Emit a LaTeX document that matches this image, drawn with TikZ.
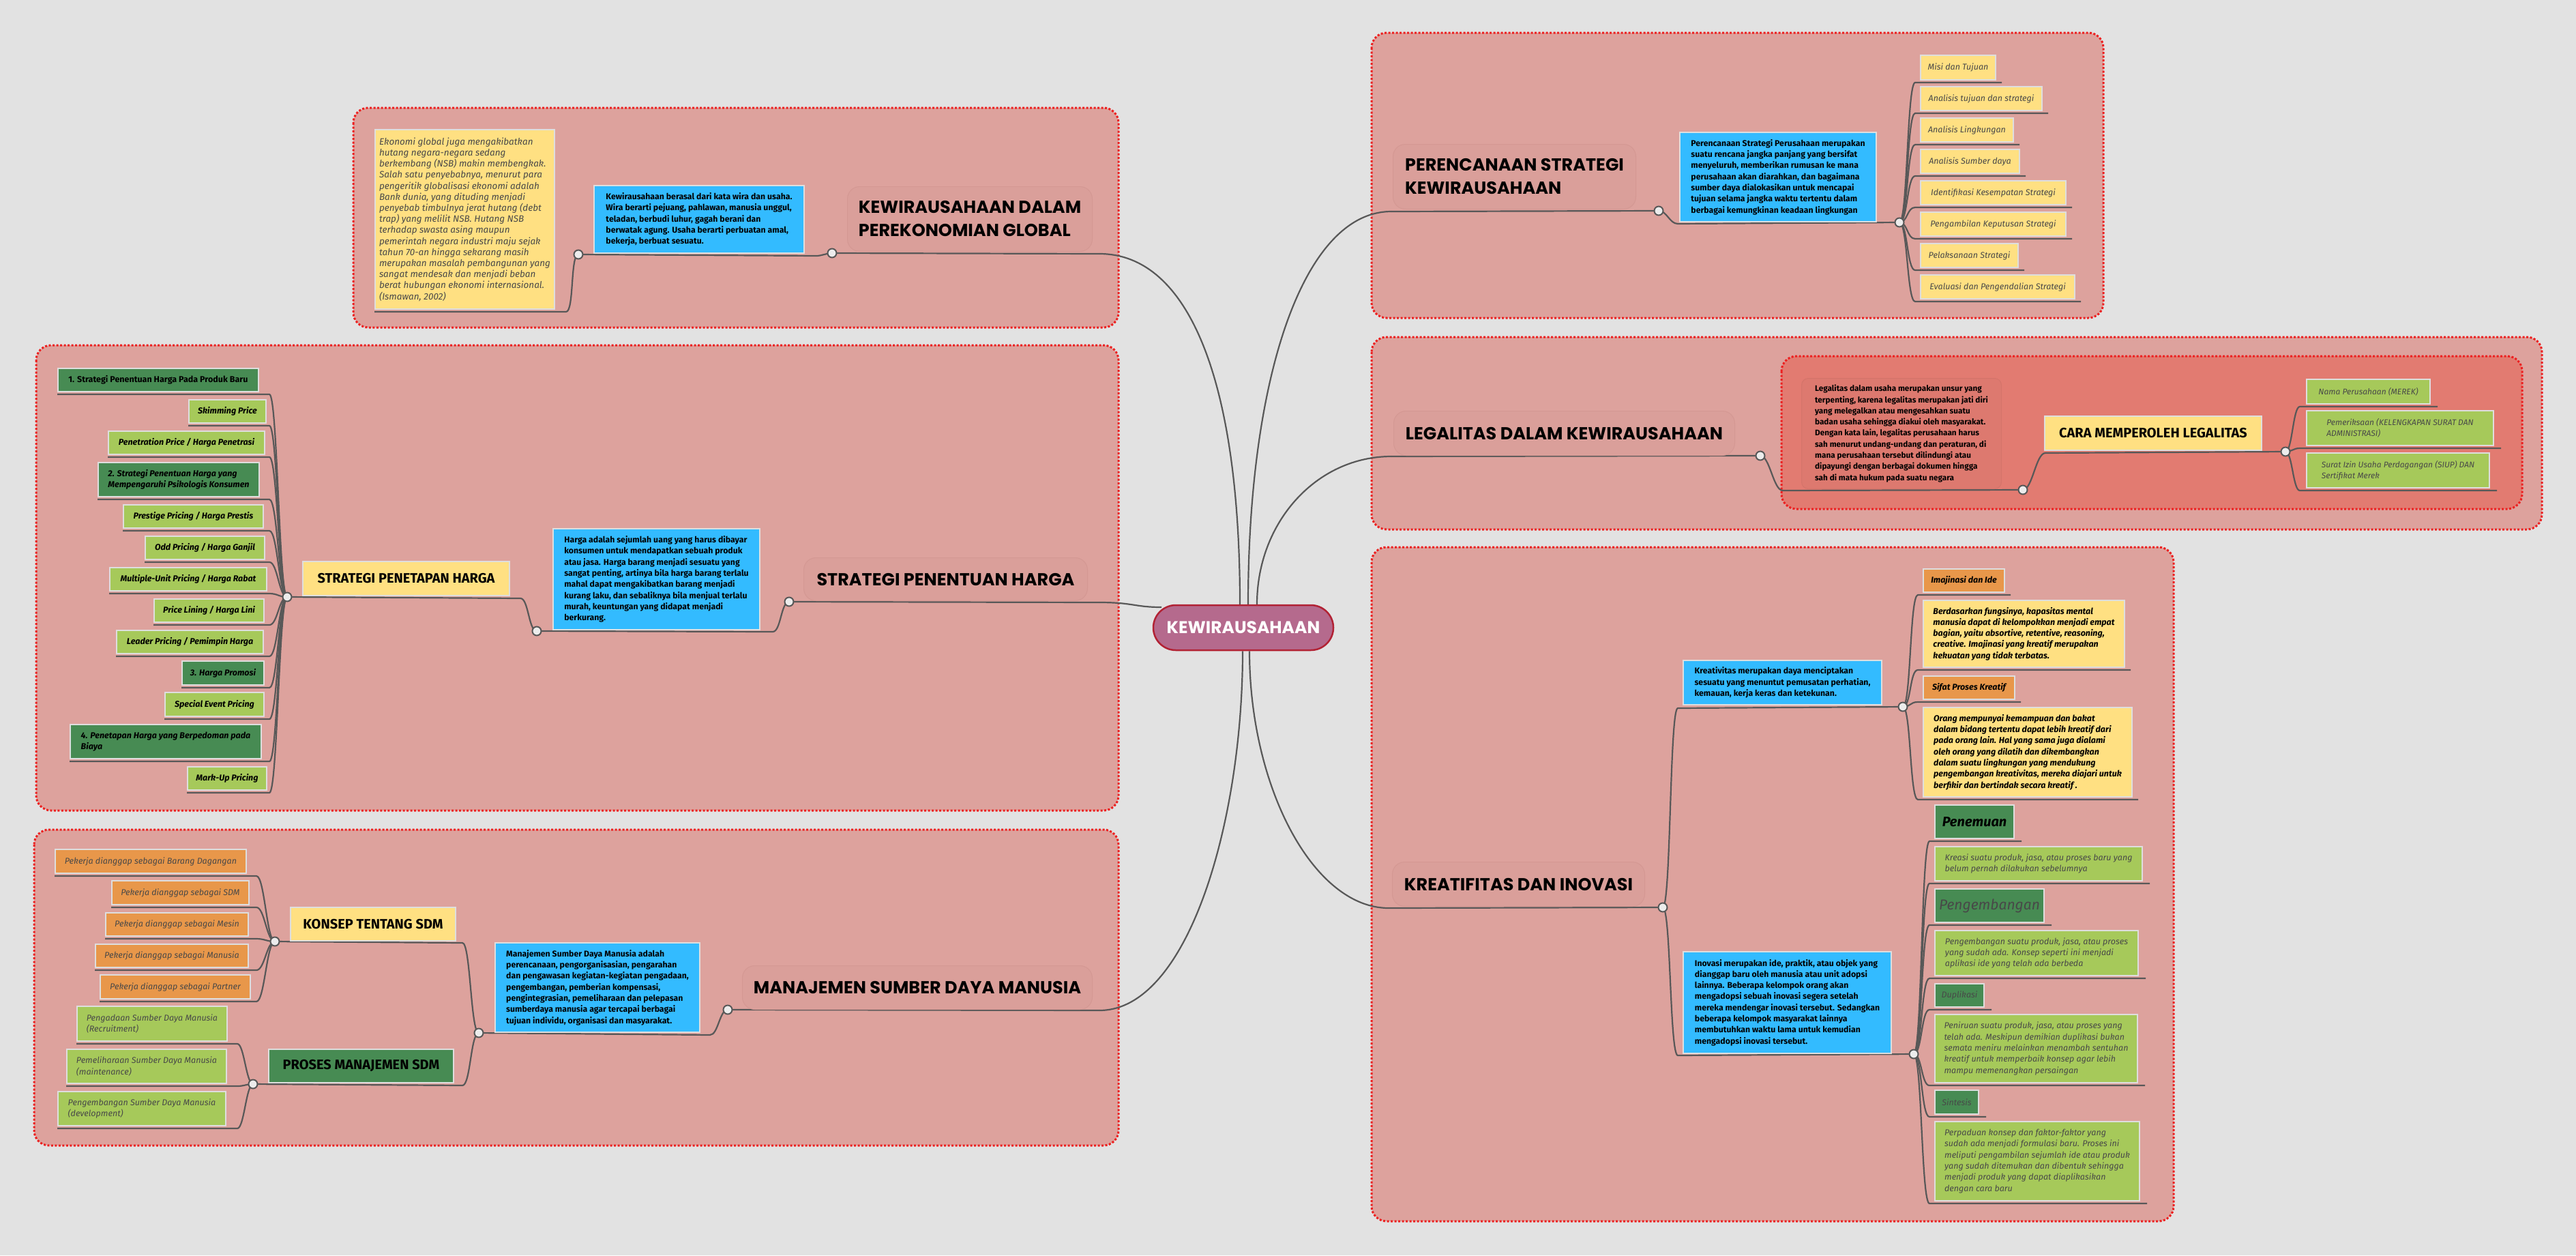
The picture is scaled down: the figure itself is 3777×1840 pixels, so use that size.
\documentclass[tikz,border=0pt]{standalone}
\usepackage{fontspec}
\setmainfont{Fira Sans}
\newfontfamily\hubfont{Poppins}
\usetikzlibrary{calc}
\definecolor{bggray}{RGB}{226,226,226}
\definecolor{regionpink}{RGB}{221,162,157}
\definecolor{regionred}{RGB}{236,32,32}
\definecolor{innersalmon}{RGB}{226,123,113}
\definecolor{titlepink}{RGB}{218,159,154}
\definecolor{titleedge}{RGB}{212,152,147}
\definecolor{noteblue}{RGB}{51,187,255}
\definecolor{noteyellow}{RGB}{255,224,130}
\definecolor{leafgreen}{RGB}{166,201,90}
\definecolor{darkgreen}{RGB}{71,139,83}
\definecolor{noteorange}{RGB}{232,151,74}
\definecolor{edgegray}{RGB}{222,222,222}
\definecolor{linegray}{RGB}{88,88,88}
\definecolor{textgray}{RGB}{72,72,72}
\definecolor{hubpurple}{RGB}{181,106,141}
\definecolor{hubred}{RGB}{178,34,52}

\pgfdeclarelayer{bg}
\pgfdeclarelayer{lines}
\pgfsetlayers{bg,lines,main}

\newcommand\leaffont{\fontsize{12.5}{16.3}\selectfont}
\newcommand\notefont{\fontsize{12.3}{16.3}\selectfont\bfseries}
\newcommand\topicfont{\hubfont\bfseries\fontsize{25.5}{34}\selectfont}
\newcommand\subtopicfont{\fontsize{20}{24}\selectfont\bfseries}

\tikzset{
  region/.style={fill=regionpink, draw=regionred, line width=3pt, dash pattern=on 3pt off 2.5pt, rounded corners=22pt},
  conn/.style={draw=linegray, line width=2.2pt},
  knob/.style={circle, draw=linegray, fill=gray!15, line width=2pt, minimum size=13pt, inner sep=0pt},
  card/.style={draw=edgegray, line width=2pt, inner sep=6pt, align=left, anchor=north west},
  sz/.style 2 args={minimum width=#1, minimum height=#2},
  topic/.style={fill=titlepink, draw=titleedge, line width=1pt, rounded corners=18pt, align=left, anchor=north west, inner sep=8pt, font=\topicfont},
  legalbox/.style={fill=innersalmon!98!black, draw=innersalmon!94!black, line width=1pt, rounded corners=10pt, align=left, anchor=north west, inner sep=6pt, font=\fontsize{11.8}{16.3}\selectfont\bfseries},
  root/.style={fill=hubpurple, draw=hubred, line width=2.5pt, rounded corners=33pt, minimum width=264, minimum height=66, text=white, font=\hubfont\bfseries\fontsize{25}{30}\selectfont},
  note/.style={card, fill=noteblue, font=\notefont},
  ylw/.style={card, fill=noteyellow},
  lgr/.style={card, fill=leafgreen},
  dgr/.style={card, fill=darkgreen},
  org/.style={card, fill=noteorange},
  grey text/.style={text=textgray, font=\leaffont\itshape},
  dark text/.style={text=black, font=\leaffont\bfseries\itshape},
}

\begin{document}
\begin{tikzpicture}[x=1pt, y=-1pt]
  \useasboundingbox (0,0) rectangle (3777,1840);
  \begin{pgfonlayer}{bg}
    \fill[bggray] (0,0) rectangle (3777,1840);
    % boundaries round each topic
    \draw[region] (518,158) rectangle (1640,480);
    \draw[region] (53,506) rectangle (1640,1188);
    \draw[region] (50,1216) rectangle (1640,1679);
    \draw[region] (2011,48) rectangle (3084,466);
    \draw[region] (2011,494) rectangle (3727,776);
    \draw[region, fill=innersalmon] (2612,522) rectangle (3698,746);
    \draw[region] (2011,802) rectangle (3187,1790);
  \end{pgfonlayer}

  % root
  \node[root] (cen) at (1823,920) {KEWIRAUSAHAAN};

  % ---- Kewirausahaan dalam perekonomian global
  \node[ylw, grey text, sz={259}{263}, font=\fontsize{13.5}{16.2}\selectfont\itshape] (ayel) at (549,189)
    {Ekonomi global juga mengakibatkan\\hutang negara-negara sedang\\berkembang (NSB) makin membengkak.\\Salah satu penyebabnya, menurut para\\pengeritik globalisasi ekonomi adalah\\Bank dunia, yang dituding menjadi\\penyebab timbulnya jerat hutang (debt\\trap) yang melilit NSB. Hutang NSB\\terhadap swasta asing maupun\\pemerintah negara industri maju sejak\\tahun 70-an hingga sekarang masih\\merupakan masalah pembangunan yang\\sangat mendesak dan menjadi beban\\berat hubungan ekonomi internasional.\\(Ismawan, 2002)};
  \node[note, sz={308}{99}] (ablue) at (870,271)
    {Kewirausahaan berasal dari kata wira dan usaha.\\Wira berarti pejuang, pahlawan, manusia unggul,\\teladan, berbudi luhur, gagah berani dan\\berwatak agung. Usaha berarti perbuatan amal,\\bekerja, berbuat sesuatu.};
  \node[topic, sz={359}{95}] (atitle) at (1242,273) {KEWIRAUSAHAAN DALAM\\PEREKONOMIAN GLOBAL};
  \node[knob] (cA1) at (1220,371) {};
  \node[knob] (cA2) at (848,373) {};

  % ---- Strategi penentuan harga
  \node[dgr, sz={294}{34}, text=black, font=\leaffont\bfseries] (b1) at (84,539) {1. Strategi Penentuan Harga Pada Produk Baru};
  \node[lgr, dark text, sz={113}{34}] (b2) at (276,585) {Skimming Price};
  \node[lgr, dark text, sz={229}{34}] (b3) at (158,631) {Penetration Price / Harga Penetrasi};
  \node[dgr, dark text, sz={236}{50}] (b4) at (143,677) {2. Strategi Penentuan Harga yang\\Mempengaruhi Psikologis Konsumen};
  \node[lgr, dark text, sz={205}{34}] (b5) at (180,739) {Prestige Pricing / Harga Prestis};
  \node[lgr, dark text, sz={175}{34}] (b6) at (212,785) {Odd Pricing / Harga Ganjil};
  \node[lgr, dark text, sz={230}{34}] (b7) at (160,831) {Multiple-Unit Pricing / Harga Rabat};
  \node[lgr, dark text, sz={161}{34}] (b8) at (225,877) {Price Lining / Harga Lini};
  \node[lgr, dark text, sz={215}{34}] (b9) at (170,923) {Leader Pricing / Pemimpin Harga};
  \node[dgr, dark text, sz={120}{35}] (b10) at (266,968) {3. Harga Promosi};
  \node[lgr, dark text, sz={145}{35}] (b11) at (241,1014) {Special Event Pricing};
  \node[dgr, dark text, sz={280}{50}] (b12) at (102,1061) {4. Penetapan Harga yang Berpedoman pada\\Biaya};
  \node[lgr, dark text, sz={116}{34}] (b13) at (274,1123) {Mark-Up Pricing};
  \coordinate (bx) at (395,0);
  \node[knob] (cB3) at (421,875) {};
  \node[ylw, sz={303}{50}, font=\subtopicfont] (bpen) at (443,822) {STRATEGI PENETAPAN HARGA};
  \node[knob] (cB2) at (787,925) {};
  \node[note, sz={303}{148}] (bblue) at (810,774)
    {Harga adalah sejumlah uang yang harus dibayar\\konsumen untuk mendapatkan sebuah produk\\atau jasa. Harga barang menjadi sesuatu yang\\sangat penting, artinya bila harga barang terlalu\\mahal dapat mengakibatkan barang menjadi\\kurang laku, dan sebaliknya bila menjual terlalu\\murah, keuntungan yang didapat menjadi\\berkurang.};
  \node[knob] (cB1) at (1157,882) {};
  \node[topic, sz={416}{63}] (btitle) at (1178,817) {STRATEGI PENENTUAN HARGA};

  % ---- Manajemen sumber daya manusia
  \node[org, grey text, sz={280}{35}] (c1) at (80,1244) {Pekerja dianggap sebagai Barang Dagangan};
  \node[org, grey text, sz={201}{35}] (c2) at (163,1290) {Pekerja dianggap sebagai SDM};
  \node[org, grey text, sz={209}{34}] (c3) at (154,1337) {Pekerja dianggap sebagai Mesin};
  \node[org, grey text, sz={224}{34}] (c4) at (139,1383) {Pekerja dianggap sebagai Manusia};
  \node[org, grey text, sz={220}{35}] (c5) at (146,1428) {Pekerja dianggap sebagai Partner};
  \node[lgr, grey text, sz={220}{51}] (c6) at (112,1474) {Pengadaan Sumber Daya Manusia\\(Recruitment)};
  \node[lgr, grey text, sz={234}{50}] (c7) at (97,1537) {Pemeliharaan Sumber Daya Manusia\\(maintenance)};
  \node[lgr, grey text, sz={246}{50}] (c8) at (84,1599) {Pengembangan Sumber Daya Manusia\\(development)};
  \coordinate (cxa) at (376,0);
  \coordinate (cxb) at (348,0);
  \node[knob] (cC3) at (403,1380) {};
  \node[ylw, sz={242}{49}, font=\subtopicfont] (ckonsep) at (425,1329) {KONSEP TENTANG SDM};
  \node[knob] (cC4) at (371,1589) {};
  \node[dgr, sz={271}{49}, font=\subtopicfont] (cproses) at (393,1537) {PROSES MANAJEMEN SDM};
  \node[knob] (cC2) at (702,1514) {};
  \node[note, sz={300}{131}] (cblue) at (725,1381)
    {Manajemen Sumber Daya Manusia adalah\\perencanaan, pengorganisasian, pengarahan\\dan pengawasan kegiatan-kegiatan pengadaan,\\pengembangan, pemberian kompensasi,\\pengintegrasian, pemeliharaan dan pelepasan\\sumberdaya manusia agar tercapai berbagai\\tujuan individu, organisasi dan masyarakat.};
  \node[knob] (cC1) at (1067,1480) {};
  \node[topic, sz={513}{64}] (ctitle) at (1088,1415) {MANAJEMEN SUMBER DAYA MANUSIA};

  % ---- Perencanaan strategi kewirausahaan
  \node[topic, sz={356}{95}] (dtitle) at (2042,211) {PERENCANAAN STRATEGI\\KEWIRAUSAHAAN};
  \node[knob] (cD1) at (2432,309) {};
  \node[note, sz={288}{131}] (dblue) at (2462,193)
    {Perencanaan Strategi Perusahaan merupakan\\suatu rencana jangka panjang yang bersifat\\menyeluruh, memberikan rumusan ke mana\\perusahaan akan diarahkan, dan bagaimana\\sumber daya dialokasikan untuk mencapai\\tujuan selama jangka waktu tertentu dalam\\berbagai kemungkinan keadaan lingkungan};
  \node[knob] (cD2) at (2785,326) {};
  \node[ylw, grey text, sz={110}{36}] (d1) at (2815,80) {Misi dan Tujuan};
  \node[ylw, grey text, sz={178}{35}] (d2) at (2815,126) {Analisis tujuan dan strategi};
  \node[ylw, grey text, sz={136}{35}] (d3) at (2815,172) {Analisis Lingkungan};
  \node[ylw, grey text, sz={145}{35}] (d4) at (2815,218) {Analisis Sumber daya};
  \node[ylw, grey text, sz={213}{35}] (d5) at (2815,264) {Identifikasi Kesempatan Strategi};
  \node[ylw, grey text, sz={213}{35}] (d6) at (2815,310) {Pengambilan Keputusan Strategi};
  \node[ylw, grey text, sz={143}{35}] (d7) at (2815,356) {Pelaksanaan Strategi};
  \node[ylw, grey text, sz={226}{35}] (d8) at (2815,402) {Evaluasi dan Pengendalian Strategi};

  % ---- Legalitas dalam kewirausahaan
  \node[topic, sz={500}{65}] (etitle) at (2043,602) {LEGALITAS DALAM KEWIRAUSAHAAN};
  \node[knob] (cE1) at (2581,668) {};
  \node[legalbox, sz={293}{162}] (etext) at (2641,554)
    {Legalitas dalam usaha merupakan unsur yang\\terpenting, karena legalitas merupakan jati diri\\yang melegalkan atau mengesahkan suatu\\badan usaha sehingga diakui oleh masyarakat.\\Dengan kata lain, legalitas perusahaan harus\\sah menurut undang-undang dan peraturan, di\\mana perusahaan tersebut dilindungi atau\\dipayungi dengan berbagai dokumen hingga\\sah di mata hukum pada suatu negara};
  \node[knob] (cE2) at (2966,718) {};
  \node[ylw, sz={318}{50}, font=\subtopicfont] (ecara) at (2997,609) {CARA MEMPEROLEH LEGALITAS};
  \node[knob] (cE3) at (3351,662) {};
  \node[lgr, grey text, sz={181}{36}, font=\fontsize{12}{16.3}\selectfont\itshape] (e1) at (3381,555) {Nama Perusahaan (MEREK)};
  \node[lgr, grey text, sz={274}{51}, font=\fontsize{12}{16.3}\selectfont\itshape] (e2) at (3381,601) {Pemeriksaan (KELENGKAPAN SURAT DAN\\ADMINISTRASI)};
  \node[lgr, grey text, sz={268}{51}, font=\fontsize{12}{16.3}\selectfont\itshape] (e3) at (3381,663) {Surat Izin Usaha Perdagangan (SIUP) DAN\\Sertifikat Merek};

  % ---- Kreatifitas dan inovasi
  \node[topic, sz={370}{65}] (ftitle) at (2041,1263) {KREATIFITAS DAN INOVASI};
  \node[knob] (cF1) at (2438,1330) {};
  \node[note, sz={291}{65}] (kblue) at (2467,967)
    {Kreativitas merupakan daya menciptakan\\sesuatu yang menuntut pemusatan perhatian,\\kemauan, kerja keras dan ketekunan.};
  \node[knob] (cFK) at (2790,1036) {};
  \node[org, dark text, sz={119}{34}] (k1) at (2819,833) {Imajinasi dan Ide};
  \node[ylw, dark text, sz={295}{98}] (k2) at (2819,879)
    {Berdasarkan fungsinya, kapasitas mental\\manusia dapat di kelompokkan menjadi empat\\bagian, yaitu absortive, retentive, reasoning,\\creative. Imajinasi yang kreatif merupakan\\kekuatan yang tidak terbatas.};
  \node[org, dark text, sz={134}{34}] (k3) at (2819,990) {Sifat Proses Kreatif};
  \node[ylw, dark text, sz={306}{131}] (k4) at (2819,1036)
    {Orang mempunyai kemampuan dan bakat\\dalam bidang tertentu dapat lebih kreatif dari\\pada orang lain. Hal yang sama juga dialami\\oleh orang yang dilatih dan dikembangkan\\dalam suatu lingkungan yang mendukung\\pengembangan kreativitas, mereka diajari untuk\\berfikir dan bertindak secara kreatif .};
  \node[note, sz={305}{149}] (iblue) at (2467,1394)
    {Inovasi merupakan ide, praktik, atau objek yang\\dianggap baru oleh manusia atau unit adopsi\\lainnya. Beberapa kelompok orang akan\\mengadopsi sebuah inovasi segera setelah\\mereka mendengar inovasi tersebut. Sedangkan\\beberapa kelompok masyarakat lainnya\\membutuhkan waktu lama untuk kemudian\\mengadopsi inovasi tersebut.};
  \node[knob] (cFI) at (2806,1545) {};
  \node[dgr, sz={116}{49}, text=black, font=\fontsize{20}{24}\selectfont\bfseries\itshape] (i1) at (2836,1179) {Penemuan};
  \node[lgr, grey text, sz={304}{50}] (i2) at (2836,1240) {Kreasi suatu produk, jasa, atau proses baru yang\\belum pernah dilakukan sebelumnya};
  \node[dgr, sz={160}{49}, text=textgray, font=\fontsize{21}{24}\selectfont\itshape] (i3) at (2836,1302) {Pengembangan};
  \node[lgr, grey text, sz={298}{66}] (i4) at (2836,1363) {Pengembangan suatu produk, jasa, atau proses\\yang sudah ada. Konsep seperti ini menjadi\\aplikasi ide yang telah ada berbeda};
  \node[dgr, grey text, sz={72}{34}] (i5) at (2836,1441) {Duplikasi};
  \node[lgr, grey text, sz={297}{100}] (i6) at (2836,1486) {Peniruan suatu produk, jasa, atau proses yang\\telah ada. Meskipun demikian duplikasi bukan\\semata meniru melainkan menambah sentuhan\\kreatif untuk memperbaik konsep agar lebih\\mampu memenangkan persaingan};
  \node[dgr, grey text, sz={64}{35}] (i7) at (2836,1597) {Sintesis};
  \node[lgr, grey text, sz={300}{116}] (i8) at (2836,1643) {Perpaduan konsep dan faktor-faktor yang\\sudah ada menjadi formulasi baru. Proses ini\\meliputi pengambilan sejumlah ide atau produk\\yang sudah ditemukan dan dibentuk sehingga\\menjadi produk yang dapat diaplikasikan\\dengan cara baru};

  \begin{pgfonlayer}{lines}
    % root to topics
    \draw[conn] ($(atitle.south east)+(10,3)$) .. controls +(130,0) and +(0,-330) .. ([xshift=-5pt]cen.north);
    \draw[conn] ($(btitle.south east)+(17,2)$) .. controls +(50,0) and +(-40,0) .. ([xshift=-120pt,yshift=30pt]cen.center);
    \draw[conn] ($(ctitle.south east)+(10,1)$) .. controls +(130,0) and +(0,250) .. ([xshift=-1pt]cen.south);
    \draw[conn] ([xshift=7pt]cen.north) .. controls +(0,-330) and +(-130,0) .. ($(dtitle.south west)+(-2,3)$);
    \draw[conn] ([xshift=20pt]cen.north) .. controls +(0,-120) and +(-110,0) .. ($(etitle.south west)+(-3,1)$);
    \draw[conn] ([xshift=9pt]cen.south) .. controls +(0,200) and +(-110,0) .. ($(ftitle.south west)+(-5,2)$);

    % left topics
    \draw[conn] (cA1.center) -- ($(atitle.south east)+(10,3)$);
    \draw[conn] (cA2.center) -- ($(ablue.south east)+(17,3)$) .. controls +(8,0) and +(-8,0) .. (cA1.center);
    \draw[conn] ($(ayel.south west)+(0,3)$) -- ($(ayel.south east)+(16,3)$) .. controls +(12,0) and +(-12,0) .. (cA2.center);

    \draw[conn] (cB1.center) -- ($(btitle.south east)+(17,2)$);
    \draw[conn] (cB2.center) -- ($(bblue.south east)+(18,2)$) .. controls +(12,0) and +(-12,0) .. (cB1.center);
    \draw[conn] (cB3.center) -- ($(bpen.south east)+(15,3)$) .. controls +(12,0) and +(-12,0) .. (cB2.center);
    \foreach \i in {1,...,13}
      \draw[conn] ($(b\i.south west)+(0,3)$) -- ($(b\i.south west -| bx)+(0,3)$)
        .. controls +(12,0) and +(-12,0) .. (cB3.center);

    \draw[conn] (cC1.center) -- ($(ctitle.south east)+(10,1)$);
    \draw[conn] (cC2.center) -- ($(cblue.south east)+(14,3)$) .. controls +(12,0) and +(-12,0) .. (cC1.center);
    \draw[conn] (cC3.center) -- ($(ckonsep.south east)+(9,2)$) .. controls +(12,0) and +(-12,0) .. (cC2.center);
    \draw[conn] (cC4.center) -- ($(cproses.south east)+(12,3)$) .. controls +(12,0) and +(-12,0) .. (cC2.center);
    \foreach \i in {1,...,5}
      \draw[conn] ($(c\i.south west)+(0,3)$) -- ($(c\i.south west -| cxa)+(0,3)$)
        .. controls +(12,0) and +(-12,0) .. (cC3.center);
    \foreach \i in {6,7,8}
      \draw[conn] ($(c\i.south west)+(0,3)$) -- ($(c\i.south west -| cxb)+(0,3)$)
        .. controls +(10,0) and +(-10,0) .. (cC4.center);

    % right topics
    \draw[conn] ($(dtitle.south west)+(-2,3)$) -- (cD1.center);
    \draw[conn] (cD1.center) .. controls +(12,0) and +(-12,0) .. ($(dblue.south west)+(-2,2)$) -- (cD2.center);
    \foreach \i in {1,...,8}
      \draw[conn] (cD2.center) .. controls +(12,0) and +(-12,0) .. ($(d\i.south west)+(-7,3)$) -- ($(d\i.south east)+(8,3)$);

    \draw[conn] ($(etitle.south west)+(-3,1)$) -- (cE1.center);
    \draw[conn] (cE1.center) .. controls +(14,0) and +(-14,0) .. ($(etext.south west)+(-27,2)$) -- (cE2.center);
    \draw[conn] (cE2.center) .. controls +(14,0) and +(-14,0) .. ($(ecara.south west)+(2,3)$) -- (cE3.center);
    \foreach \i in {1,2,3}
      \draw[conn] (cE3.center) .. controls +(10,0) and +(-10,0) .. ($(e\i.south west)+(-9,3)$) -- ($(e\i.south east)+(10,3)$);

    \draw[conn] ($(ftitle.south west)+(-5,2)$) -- (cF1.center);
    \draw[conn] (cF1.center) .. controls +(12,0) and +(-12,0) .. ($(kblue.south west)+(-7,4)$) -- (cFK.center);
    \draw[conn] (cF1.center) .. controls +(12,0) and +(-12,0) .. ($(iblue.south west)+(-7,2)$) -- (cFI.center);
    \foreach \i in {1,...,4}
      \draw[conn] (cFK.center) .. controls +(12,0) and +(-12,0) .. ($(k\i.south west)+(-7,3)$) -- ($(k\i.south east)+(8,3)$);
    \foreach \i in {1,...,8}
      \draw[conn] (cFI.center) .. controls +(12,0) and +(-12,0) .. ($(i\i.south west)+(-7,3)$) -- ($(i\i.south east)+(10,3)$);
  \end{pgfonlayer}
\end{tikzpicture}
\end{document}
